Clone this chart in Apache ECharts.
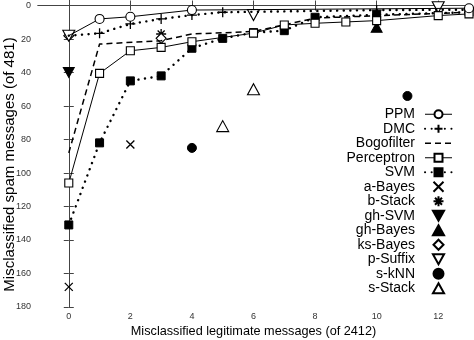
<!DOCTYPE html>
<html>
<head>
<meta charset="utf-8">
<script src="https://cdn.jsdelivr.net/npm/echarts@6/dist/echarts.min.js"></script>
<style>
html,body{margin:0;padding:0;background:#fff;}
#chart{width:474px;height:340px;}
</style>
</head>
<body>
<div id="chart"></div>
<script>
// ---- data ----
var xTicks = [0, 2, 4, 6, 8, 10, 12];
var yTicks = [0, 20, 40, 60, 80, 100, 120, 140, 160, 180];

var ppmX = [0, 1, 2, 4, 13];
var ppmY = [18, 8, 6.7, 2.7, 1.6];

var dmcX = [0, 1, 2, 3, 4, 5, 10, 13];
var dmcY = [18, 16.6, 11, 8, 5.7, 4, 2.7, 2.5];

var bogoX = [0, 1, 3, 4, 6, 8, 13];
var bogoY = [88, 23, 21, 17, 15.5, 7.5, 4];

var percX = [0, 1, 2, 3, 4, 6, 7, 8, 9, 10, 12, 13];
var percY = [106, 40.5, 27, 25, 21.6, 16.5, 11.6, 10.6, 9.8, 9, 6, 5];

var svmX = [0, 1, 2, 3, 4, 5, 6, 7, 8, 10, 13];
var svmY = [131, 82, 45, 42, 25.5, 19.6, 16.2, 15, 7, 5.5, 4];

var aBayesX = [0, 2];     var aBayesY = [168, 83];
var bStackX = [3];        var bStackY = [17];
var ghSvmX = [0];         var ghSvmY = [40];
var ghBayesX = [10];      var ghBayesY = [13];
var ksBayesX = [0, 3];    var ksBayesY = [18, 19.6];
var pSuffixX = [0, 6, 12];var pSuffixY = [18, 5.7, 1];
var sKnnX = [4, 11];      var sKnnY = [85, 54];
var sStackX = [5, 6];     var sStackY = [72, 50];

var legendNames = ['PPM', 'DMC', 'Bogofilter', 'Perceptron', 'SVM', 'a-Bayes', 'b-Stack', 'gh-SVM',
                   'gh-Bayes', 'ks-Bayes', 'p-Suffix', 's-kNN', 's-Stack'];

// ---- chart ----
function pts(xs, ys) { return xs.map(function (x, i) { return [x, ys[i]]; }); }
function ptsNoFirst(xs, ys) {
  return xs.map(function (x, i) {
    return i === 0 ? { value: [x, ys[i]], symbol: 'none' } : [x, ys[i]];
  });
}

var PLUS = 'path://M5,0L5,10M0,5L10,5';
var CROSS = 'path://M0,0L10,10M10,0L0,10';
var STAR = 'path://M5,0L5,10M0,5L10,5M1.5,1.5L8.5,8.5M8.5,1.5L1.5,8.5';
var TRI_DOWN = 'path://M0,0L10,0L5,9Z';
var TRI_UP = 'path://M5,0L10,9L0,9Z';
var SQUARE = 'path://M0,0L10,0L10,10L0,10Z';
var DIAMOND = 'path://M5,0L10,5L5,10L0,5Z';

var open = { color: '#fff', borderColor: '#000', borderWidth: 1.1, opacity: 1 };
var filled = { color: '#000', borderColor: '#000', borderWidth: 1, opacity: 1 };
var stroke = { color: '#000', borderColor: '#000', borderWidth: 1.3, opacity: 1 };
var dotted = { color: '#000', width: 2.4, type: [0.1, 6.5], cap: 'round' };

var axisCol = '#444';
var font = 'Liberation Sans, Arial, sans-serif';

var legendData = legendNames.map(function (n) {
  var item = { name: n };
  if (n === 'Bogofilter') { item.itemStyle = { opacity: 0 }; item.lineStyle = { width: 1.5 }; }
  if (n === 'PPM' || n === 'Perceptron') item.lineStyle = { width: 1 };
  return item;
});

var chart = echarts.init(document.getElementById('chart'), null, { renderer: 'canvas' });
chart.setOption({
  animation: false,
  backgroundColor: '#fff',
  textStyle: { fontFamily: font },
  grid: { left: 38, right: 5, top: -2, bottom: 33, containLabel: false, outerBoundsMode: 'none' },
  xAxis: [{
    type: 'value', min: -1, max: 13, position: 'bottom',
    name: 'Misclassified legitimate messages (of 2412)',
    nameLocation: 'middle', nameGap: 18, nameMoveOverlap: false,
    nameTextStyle: { fontSize: 12.7, color: '#000', fontFamily: font },
    axisLine: { show: true, lineStyle: { color: axisCol, width: 1 } },
    axisTick: { show: true, inside: true, length: 5, customValues: xTicks, lineStyle: { color: axisCol } },
    axisLabel: { customValues: xTicks, fontSize: 9, color: '#333', margin: 5 },
    splitLine: { show: false }
  }, {
    type: 'value', min: -1, max: 13, position: 'top',
    axisLine: { show: true, lineStyle: { color: axisCol, width: 1 } },
    axisTick: { show: true, inside: true, length: 5, customValues: xTicks, lineStyle: { color: axisCol } },
    axisLabel: { show: false },
    splitLine: { show: false }
  }],
  yAxis: [{
    type: 'value', min: -4.5, max: 180, inverse: true, position: 'left',
    name: 'Misclassified spam messages (of 481)',
    nameLocation: 'middle', nameGap: 21, nameRotate: 90, nameMoveOverlap: false,
    nameTextStyle: { fontSize: 15, color: '#000', fontFamily: font, padding: [0, 24, 0, 0] },
    axisLine: { show: true, lineStyle: { color: axisCol, width: 1 } },
    axisTick: { show: true, inside: true, length: 5, customValues: yTicks, lineStyle: { color: axisCol } },
    axisLabel: { customValues: yTicks, fontSize: 9, color: '#333', margin: 7 },
    splitLine: { show: false }
  }, {
    type: 'value', min: -4.5, max: 180, inverse: true, position: 'right',
    axisLine: { show: true, lineStyle: { color: axisCol, width: 1 } },
    axisTick: { show: true, inside: true, length: 5, customValues: yTicks, lineStyle: { color: axisCol } },
    axisLabel: { show: false },
    splitLine: { show: false }
  }],
  legend: {
    orient: 'vertical', align: 'right', right: 21, top: 107, padding: 0,
    itemWidth: 27, itemHeight: 10, itemGap: 0, selectedMode: false, symbolKeepAspect: true,
    textStyle: { fontSize: 14, color: '#000', fontFamily: font, lineHeight: 14.5, padding: [0, 5, 0, 0] },
    data: legendData
  },
  series: [
    { name: 'Bogofilter', type: 'line', data: pts(bogoX, bogoY), symbol: 'none',
      lineStyle: { color: '#000', width: 1.5, type: [6, 4] }, itemStyle: { color: '#000' } },
    { name: 'SVM', type: 'line', data: pts(svmX, svmY), symbol: SQUARE, symbolSize: 8,
      lineStyle: dotted, itemStyle: filled },
    { name: 'DMC', type: 'line', data: ptsNoFirst(dmcX, dmcY), symbol: PLUS, symbolSize: 10,
      lineStyle: dotted, itemStyle: stroke },
    { name: 'Perceptron', type: 'line', data: pts(percX, percY), symbol: SQUARE, symbolSize: 8,
      lineStyle: { color: '#000', width: 1 }, itemStyle: open },
    { name: 'PPM', type: 'line', data: ptsNoFirst(ppmX, ppmY), symbol: 'circle', symbolSize: 9,
      lineStyle: { color: '#000', width: 1 }, itemStyle: open },
    { name: 'a-Bayes', type: 'scatter', data: pts(aBayesX, aBayesY), symbol: CROSS, symbolSize: 8, symbolKeepAspect: true, itemStyle: stroke },
    { name: 'b-Stack', type: 'scatter', data: pts(bStackX, bStackY), symbol: STAR, symbolSize: 10, symbolKeepAspect: true, itemStyle: stroke },
    { name: 'gh-SVM', type: 'scatter', data: pts(ghSvmX, ghSvmY), symbol: TRI_DOWN, symbolSize: [11, 10], itemStyle: filled },
    { name: 'gh-Bayes', type: 'scatter', data: pts(ghBayesX, ghBayesY), symbol: TRI_UP, symbolSize: [11, 10], itemStyle: filled },
    { name: 'ks-Bayes', type: 'scatter', data: pts(ksBayesX, ksBayesY), symbol: DIAMOND, symbolSize: 10, symbolKeepAspect: true, itemStyle: open },
    { name: 'p-Suffix', type: 'scatter', data: pts(pSuffixX, pSuffixY), symbol: TRI_DOWN, symbolSize: [12, 11], itemStyle: open },
    { name: 's-kNN', type: 'scatter', data: pts(sKnnX, sKnnY), symbol: 'circle', symbolSize: 9, itemStyle: filled },
    { name: 's-Stack', type: 'scatter', data: pts(sStackX, sStackY), symbol: TRI_UP, symbolSize: [12, 11], itemStyle: open }
  ]
});
</script>
</body>
</html>
